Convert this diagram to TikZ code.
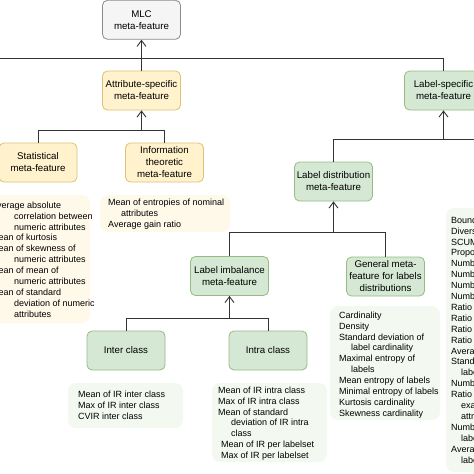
\documentclass[tikz,border=0pt]{standalone}
\usepackage{fontspec}
\setmainfont{Liberation Sans}
\usetikzlibrary{arrows.meta}
\definecolor{yfill}{HTML}{FFF2CC}
\definecolor{yborder}{HTML}{DCC275}
\definecolor{gfill}{HTML}{D5E8D4}
\definecolor{gborder}{HTML}{96BC84}
\definecolor{mfill}{HTML}{F5F5F5}
\definecolor{mborder}{HTML}{8C8C8C}
\definecolor{ylist}{HTML}{FFF9EA}
\definecolor{glist}{HTML}{F3F9F0}
\definecolor{linec}{HTML}{333333}
\tikzset{
  box/.style={rounded corners=5pt, minimum width=78pt, minimum height=39pt,
    align=center, inner sep=1pt, line width=0.8pt,
    font=\fontsize{9.7}{12}\selectfont},
  ybox/.style={box, fill=yfill, draw=yborder},
  gbox/.style={box, fill=gfill, draw=gborder},
  mbox/.style={box, fill=mfill, draw=mborder},
  listtxt/.style={anchor=north west, inner sep=0pt, align=left,
    font=\fontsize{9}{10.9}\selectfont},
  conn/.style={draw=linec, line width=0.9pt},
  arr/.style={conn, -{Straight Barb[length=6pt,width=9pt,line width=0.9pt]}},
}
\begin{document}
\begin{tikzpicture}[x=1pt,y={(0pt,-1pt)}]
\useasboundingbox (0,0) rectangle (474,474);
\fill[white] (0,0) rectangle (474,474);
\clip (0,0) rectangle (474,474);

% list backgrounds
\fill[ylist, rounded corners=8pt] (-12,195) rectangle (90,323);
\fill[ylist, rounded corners=8pt] (100,195) rectangle (230,232);
\fill[glist, rounded corners=8pt] (68,383) rectangle (183,428);
\fill[glist, rounded corners=8pt] (212,383) rectangle (327,462);
\fill[glist, rounded corners=8pt] (330,306) rectangle (440,420);
\fill[glist, rounded corners=8pt] (446,208) rectangle (560,472);

% boxes
\node[mbox] (mlc) at (141.5,19.8) {MLC\\meta-feature};
\node[ybox] (attr) at (141.5,90.5) {Attribute-specific\\meta-feature};
\node[gbox] (labspec) at (443.5,90.5) {Label-specific\\meta-feature};
\node[ybox] (stat) at (38,162.5) {Statistical\\meta-feature};
\node[ybox] (info) at (164.5,162.5) {Information\\theoretic\\meta-feature};
\node[gbox] (ld) at (333.5,181.5) {Label distribution\\meta-feature};
\node[gbox] (imb) at (229.5,276) {Label imbalance\\meta-feature};
\node[gbox] (gen) at (385.5,276.5) {General meta-\\feature for labels\\distributions};
\node[gbox] (inter) at (126,350.5) {Inter class};
\node[gbox] (intra) at (268,350.5) {Intra class};

% junctions
\coordinate (leftend) at (-5,58.7);
\coordinate (j1) at (141.5,58.7);
\coordinate (j2) at (141.5,130);
\coordinate (rightend) at (480,139);
\coordinate (j3) at (443.5,139);
\coordinate (j4) at (333.5,232);
\coordinate (j5) at (229.5,318);

% connectors
\draw[arr] (attr.north) -- (mlc.south);
\draw[conn] (leftend) -- (j1);
\draw[conn] (labspec.north) |- (j1);
\draw[arr] (stat.north) |- (j2) -- (attr.south);
\draw[conn] (info.north) |- (j2);
\draw[arr] (ld.north) |- (j3) -- (labspec.south);
\draw[conn] (rightend) -- (j3);
\draw[arr] (imb.north) |- (j4) -- (ld.south);
\draw[conn] (gen.north) |- (j4);
\draw[arr] (inter.north) |- (j5) -- (imb.south);
\draw[conn] (intra.north) |- (j5);

% list texts
\node[listtxt] (statl) at (-9,201.5) {Average absolute\\\hspace*{23pt}correlation between\\\hspace*{23pt}numeric attributes\\Mean of kurtosis\\Mean of skewness of\\\hspace*{23pt}numeric attributes\\Mean of mean of\\\hspace*{23pt}numeric attributes\\Mean of standard\\\hspace*{23pt}deviation of numeric\\\hspace*{23pt}attributes};
\node[listtxt] (infol) at (108,199.2) {Mean of entropies of nominal\\\hspace*{13pt}attributes\\Average gain ratio};
\node[listtxt] (interl) at (78,390.5) {Mean of IR inter class\\Max of IR inter class\\CVIR inter class};
\node[listtxt] (intral) at (218,386.5) {Mean of IR intra class\\Max of IR intra class\\Mean of standard\\\hspace*{13pt}deviation of IR intra\\\hspace*{13pt}class\\\hspace*{3pt}Mean of IR per labelset\\\hspace*{3pt}Max of IR per labelset};
\node[listtxt] (genl) at (339,311.5) {Cardinality\\Density\\Standard deviation of\\\hspace*{12pt}label cardinality\\Maximal entropy of\\\hspace*{12pt}labels\\Mean entropy of labels\\Minimal entropy of labels\\Kurtosis cardinality\\Skewness cardinality};
\node[listtxt] (rightl) at (451,216.5) {Bound\\Diversity\\SCUMBLE\\Proportion of distinct labelsets\\Number of labels\\Number of labelsets\\Number of labelsets up to 2 examples\\Number of labelsets up to 5 examples\\Ratio of labelsets up to 2 examples\\Ratio of labelsets up to 5 examples\\Ratio of unique labelsets\\Ratio of unconditionally dependent\\Average examples per labelset\\Standard deviation of\\\hspace*{10pt}labelset cardinality\\Number of unique labelsets\\Ratio of number of\\\hspace*{10pt}examples to number of\\\hspace*{10pt}attributes\\Number of unconditionally\\\hspace*{10pt}label pairs\\Average examples per\\\hspace*{10pt}labelset};
\end{tikzpicture}
\end{document}
